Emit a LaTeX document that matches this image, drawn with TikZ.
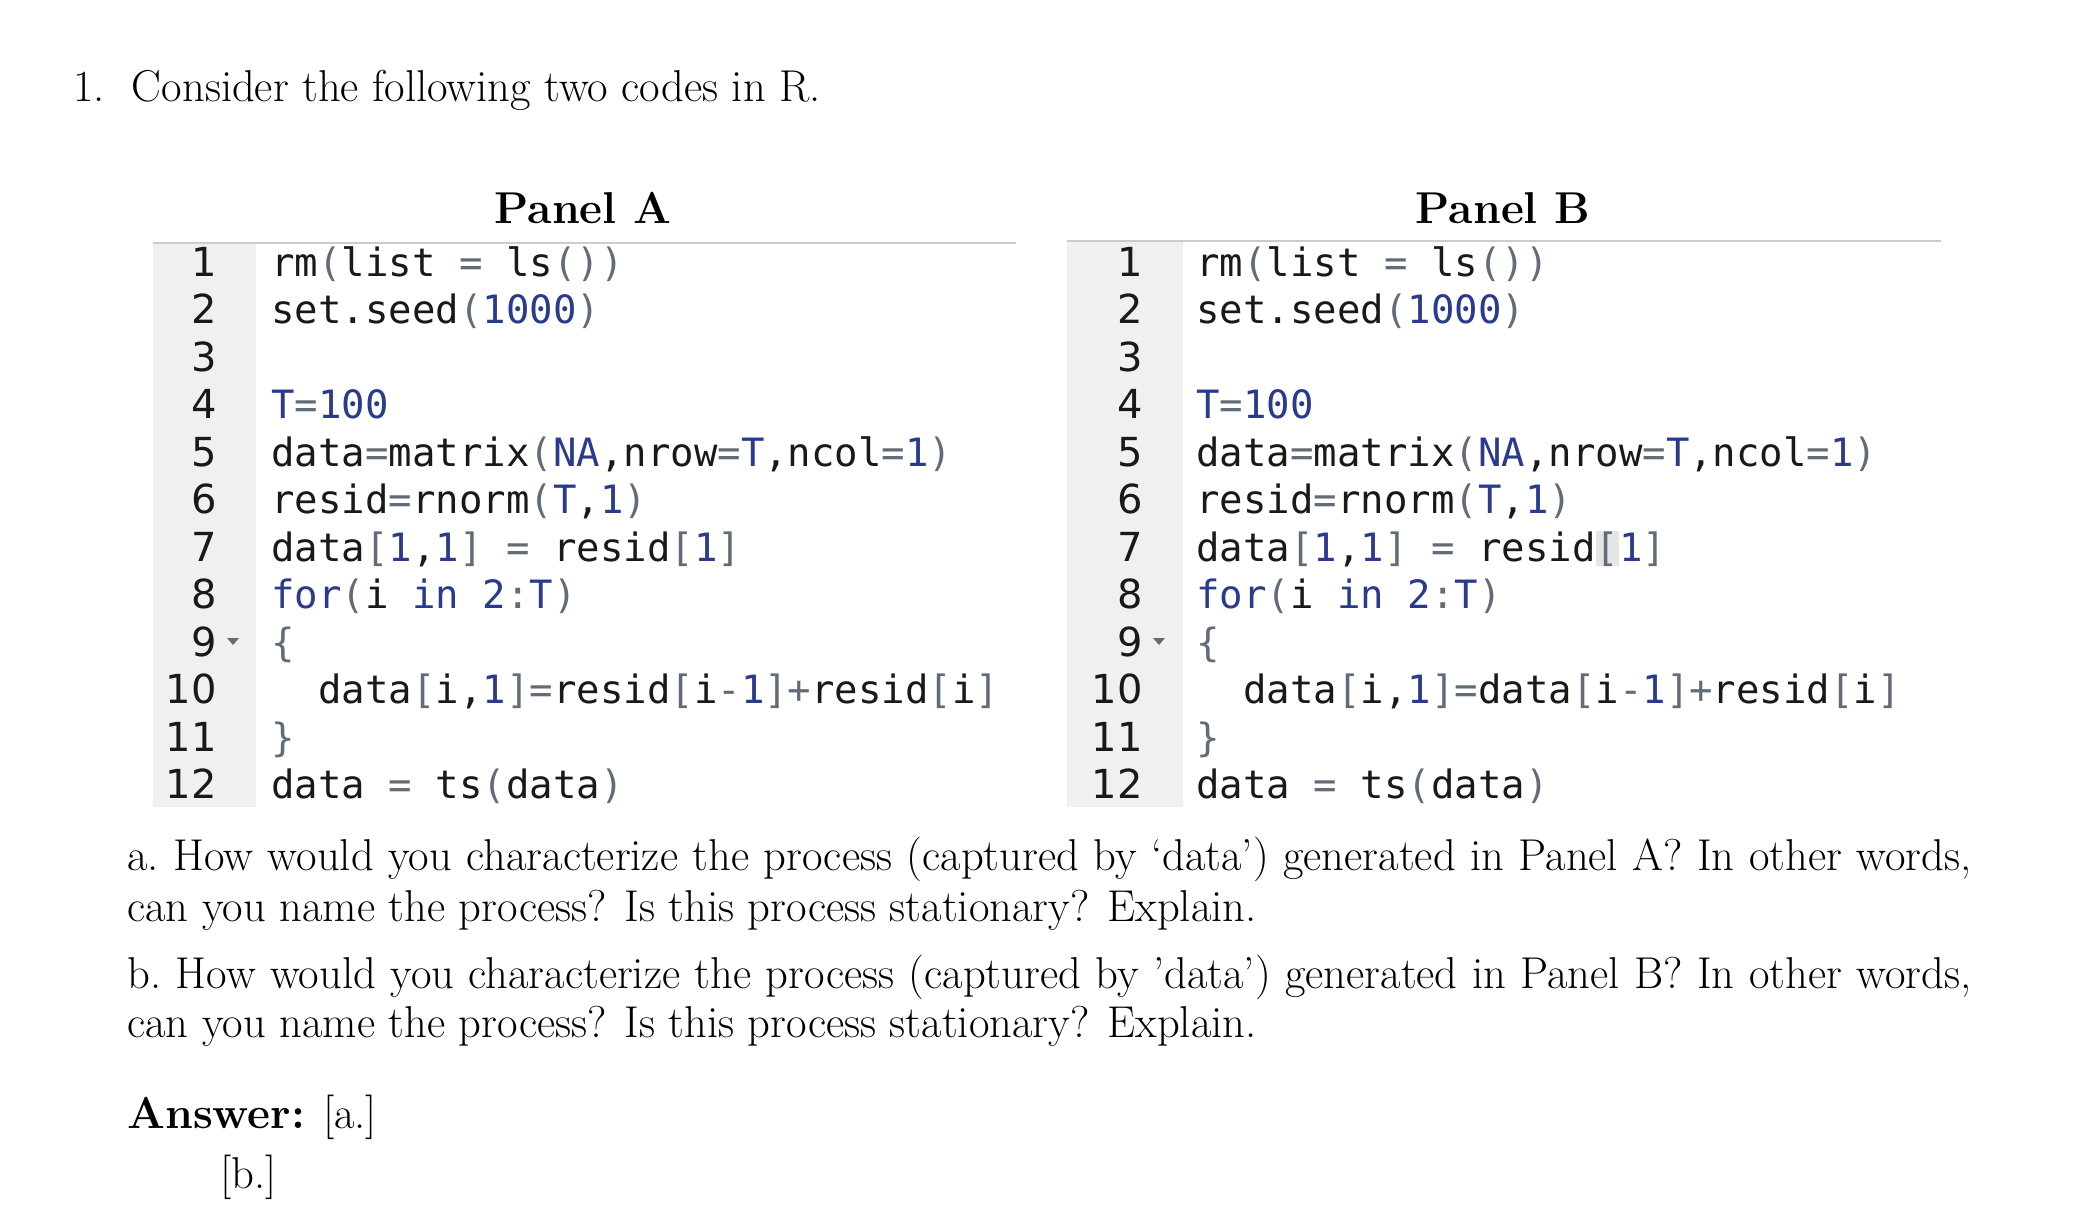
\documentclass[tikz,border=0pt]{standalone}
\usepackage{fontspec}
\setmonofont{DejaVu Sans Mono}
\newfontfamily\numfont{DejaVu Sans}
\definecolor{cblue}{RGB}{42,58,140}
\definecolor{cgray}{RGB}{98,108,120}
\definecolor{cblack}{RGB}{25,25,25}
\definecolor{gutter}{RGB}{240,240,240}
\newcommand{\bl}[1]{\textcolor{cblue}{#1}}
\newcommand{\gr}[1]{\textcolor{cgray}{#1}}
\begin{document}
\begin{tikzpicture}[x=0.5pt,y=-0.5pt,
  txt/.style={anchor=base west,inner sep=0pt,font=\fontsize{22.3}{27}\selectfont},
  code/.style={anchor=base west,inner sep=0pt,text=cblack,font=\fontsize{19.5}{24}\ttfamily},
  lnum/.style={anchor=base east,inner sep=0pt,text=cblack,font=\fontsize{20}{24}\numfont},
  head/.style={anchor=base,inner sep=0pt,font=\fontsize{22.3}{27}\selectfont\bfseries}]
\useasboundingbox (0,0) rectangle (2080,1216);
\node[txt] (q) at (73,101) {1.\ \ Consider the following two codes in R.};
% Panels
\foreach \P/\bx/\gx/\ex/\nx/\cx/\hx/\ty in {A/153/256/1016/217/271/583/243, B/1067/1183/1941/1143/1196/1503/241}{
  \fill[gutter] (\bx,\ty) rectangle (\gx,807);
  \draw[gray!40,line width=1.2pt] (\bx,\ty) -- (\ex,\ty);
  \node[head] (h\P) at (\hx,223) {Panel \P};
  \foreach \n in {1,...,12}{
    \node[lnum] (n\P\n) at (\nx,{262+47.5*(\n-1)+14}) {\n};
  }
  \fill[cgray] ({\nx+10},{262+47.5*8-4}) -- ({\nx+22},{262+47.5*8-4}) -- ({\nx+16},{262+47.5*8+3}) -- cycle;
  \node[code] (c\P1) at (\cx,{262+14}) {rm\gr{(}list \gr{=} ls\gr{()}\gr{)}};
  \node[code] (c\P2) at (\cx,{262+47.5+14}) {set.seed\gr{(}\bl{1000}\gr{)}};
  \node[code] (c\P4) at (\cx,{262+47.5*3+14}) {\bl{T}\gr{=}\bl{100}};
  \node[code] (c\P5) at (\cx,{262+47.5*4+14}) {data\gr{=}matrix\gr{(}\bl{NA},nrow\gr{=}\bl{T},ncol\gr{=}\bl{1}\gr{)}};
  \node[code] (c\P6) at (\cx,{262+47.5*5+14}) {resid\gr{=}rnorm\gr{(}\bl{T},\bl{1}\gr{)}};
  \node[code] (c\P8) at (\cx,{262+47.5*7+14}) {\bl{for}\gr{(}i \bl{in} \bl{2}\gr{:}\bl{T}\gr{)}};
  \node[code] (c\P9) at (\cx,{262+47.5*8+14}) {\gr{\{}};
  \node[code] (c\P11) at (\cx,{262+47.5*10+14}) {\gr{\}}};
  \node[code] (c\P12) at (\cx,{262+47.5*11+14}) {data \gr{=} ts\gr{(}data\gr{)}};
}
\node[code] (cA7) at (271,{262+47.5*6+14}) {data\gr{[}\bl{1},\bl{1}\gr{]} \gr{=} resid\gr{[}\bl{1}\gr{]}};
\node[code] (cB7) at (1196,{262+47.5*6+14}) {data\gr{[}\bl{1},\bl{1}\gr{]} \gr{=} resid{\setlength\fboxsep{0pt}\colorbox{gray!20}{\gr{[}}}\bl{1}\gr{]}};
\node[code] (cA10) at (271,{262+47.5*9+14}) {\phantom{xx}data\gr{[}i,\bl{1}\gr{]=}resid\gr{[}i\gr{-}\bl{1}\gr{]+}resid\gr{[}i\gr{]}};
\node[code] (cB10) at (1196,{262+47.5*9+14}) {\phantom{xx}data\gr{[}i,\bl{1}\gr{]=}data\gr{[}i\gr{-}\bl{1}\gr{]+}resid\gr{[}i\gr{]}};
% Questions
\node[txt] (a1) at (127,870) {\makebox[922pt][s]{a.\ How would you characterize the process (captured by `data') generated in Panel A? In other words,}};
\node[txt] (a2) at (127,921) {can you name the process? Is this process stationary? Explain.};
\node[txt] (b1) at (127,988) {\makebox[922pt][s]{b.\ How would you characterize the process (captured by 'data') generated in Panel B? In other words,}};
\node[txt] (b2) at (127,1037) {can you name the process? Is this process stationary? Explain.};
\node[txt] (ans) at (127,1128) {\textbf{Answer:} [a.]};
\node[txt] (ansb) at (220,1188) {[b.]};
\end{tikzpicture}
\end{document}
